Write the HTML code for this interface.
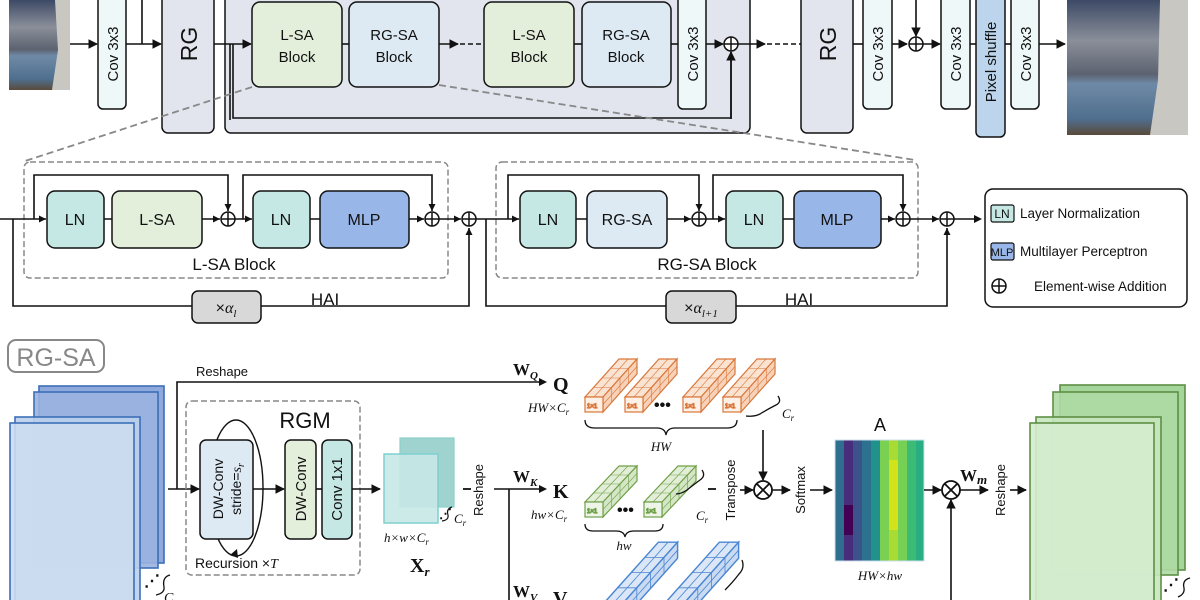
<!DOCTYPE html>
<html><head><meta charset="utf-8"><style>
html,body{margin:0;padding:0;background:#fff;}
svg{display:block;}
text{font-family:"Liberation Sans",sans-serif;fill:#111;}
.m{font-family:"Liberation Serif",serif;font-style:italic;}
.b{font-family:"Liberation Serif",serif;font-weight:bold;}
</style></head><body>
<svg width="1200" height="600" viewBox="0 0 1200 600" xmlns="http://www.w3.org/2000/svg">
<defs>
<marker id="a" viewBox="0 0 10 10" refX="9" refY="5" markerWidth="6" markerHeight="6" orient="auto"><path d="M0,0L10,5L0,10z" fill="#111"/></marker>
<g id="plus"><circle r="7" fill="#fff" stroke="#111" stroke-width="1.5"/><path d="M-7,0H7M0,-7V7" stroke="#111" stroke-width="1.5"/></g>
<g id="times"><circle r="9" fill="#fff" stroke="#111" stroke-width="1.8"/><path d="M-6.3,-6.3L6.3,6.3M-6.3,6.3L6.3,-6.3" stroke="#111" stroke-width="1.8"/></g>
<g id="barO" stroke="#d9773a" stroke-width="1.2" fill="#fbe3d2">
<path d="M0,0L34,-38H52L18,0z"/><path d="M18,0L52,-38V-23L18,15z" fill="#f7d2b8"/><rect x="0" y="0" width="18" height="15" fill="#fdf0e6"/>
<path d="M8.5,-9.5H26.5V5.5M17,-19H35V-4M25.5,-28.5H43.5V-13.5M9,0L43,-38M52,-30.5L18,7.5" fill="none" stroke-width="0.6"/>
<text x="2" y="11" font-size="6" style="fill:#d9773a">1×1</text></g>
<g id="barG" stroke="#6fa048" stroke-width="1.2" fill="#e3eed8">
<path d="M0,0L34,-36H52L18,0z"/><path d="M18,0L52,-36V-21L18,15z" fill="#d5e6c6"/><rect x="0" y="0" width="18" height="15" fill="#eef5e8"/>
<path d="M8.5,-9H26.5V6M17,-18H35V-3M25.5,-27H43.5V-12M9,0L43,-36M52,-28.5L18,7.5" fill="none" stroke-width="0.6"/>
<text x="2" y="11" font-size="6" style="fill:#6fa048">1×1</text></g>
<g id="barB" stroke="#4a86d4" stroke-width="0.9" fill="#dbe7f6">
<path d="M0,0L34,-38H46L12,0z"/><path d="M12,0L46,-38V-28L12,10z" fill="#c9daf1"/><rect x="0" y="0" width="12" height="10" fill="#e8f0fa"/>
<path d="M8.5,-9.5H20.5V0.5M17,-19H29V-9M25.5,-28.5H37.5V-18.5M6,0L40,-38M46,-33L12,5" fill="none" stroke-width="0.5"/></g>
<linearGradient id="img" x1="0" y1="0" x2="0" y2="1"><stop offset="0" stop-color="#3d4a66"/><stop offset="0.3" stop-color="#8a8f99"/><stop offset="0.55" stop-color="#5c6270"/><stop offset="0.62" stop-color="#6f8aa6"/><stop offset="0.88" stop-color="#4f6f8e"/><stop offset="1" stop-color="#5a4a3a"/></linearGradient>
</defs>

<!-- ===== TOP ROW ===== -->
<rect x="9" y="0" width="61" height="90" fill="url(#img)"/>
<path d="M55,0L70,0L70,90L52,90L58,50z" fill="#c9c7c2"/>
<line x1="70" y1="44" x2="97" y2="44" stroke="#111" stroke-width="1.6" marker-end="url(#a)"/>
<rect x="98" y="-10" width="28" height="119" rx="5" fill="#eef8f8" stroke="#111" stroke-width="1.5"/>
<text transform="translate(118,54) rotate(-90)" text-anchor="middle" font-size="15">Cov 3x3</text>
<line x1="126" y1="44" x2="161" y2="44" stroke="#111" stroke-width="1.6" marker-end="url(#a)"/>
<line x1="142" y1="44" x2="142" y2="0" stroke="#111" stroke-width="1.6"/>
<rect x="162" y="-10" width="52" height="143" rx="6" fill="#e3e5ee" stroke="#111" stroke-width="1.5"/>
<text transform="translate(197,44) rotate(-90)" text-anchor="middle" font-size="23">RG</text>
<rect x="225" y="-10" width="525" height="143" rx="6" fill="#e3e5ee" stroke="#111" stroke-width="1.5"/>
<line x1="214" y1="44" x2="251" y2="44" stroke="#111" stroke-width="1.6" marker-end="url(#a)"/>
<path d="M230,44V120M233,44V118H731V52" fill="none" stroke="#111" stroke-width="1.6"/>
<line x1="731" y1="119" x2="731" y2="52" stroke="#111" stroke-width="1.6" marker-end="url(#a)"/>
<rect x="252" y="2" width="90" height="85" rx="8" fill="#e3efdb" stroke="#111" stroke-width="1.5"/>
<text x="297" y="40" text-anchor="middle" font-size="15">L-SA</text><text x="297" y="62" text-anchor="middle" font-size="15">Block</text>
<line x1="342" y1="44" x2="349" y2="44" stroke="#111" stroke-width="1.6"/>
<rect x="349" y="2" width="90" height="85" rx="8" fill="#dde9f3" stroke="#111" stroke-width="1.5"/>
<text x="394" y="40" text-anchor="middle" font-size="15">RG-SA</text><text x="394" y="62" text-anchor="middle" font-size="15">Block</text>
<line x1="439" y1="44" x2="458" y2="44" stroke="#111" stroke-width="1.6" marker-end="url(#a)"/>
<line x1="460" y1="44" x2="484" y2="44" stroke="#111" stroke-width="1.6" stroke-dasharray="5,3"/>
<rect x="484" y="2" width="90" height="85" rx="8" fill="#e3efdb" stroke="#111" stroke-width="1.5"/>
<text x="529" y="40" text-anchor="middle" font-size="15">L-SA</text><text x="529" y="62" text-anchor="middle" font-size="15">Block</text>
<line x1="574" y1="44" x2="582" y2="44" stroke="#111" stroke-width="1.6"/>
<rect x="582" y="2" width="89" height="85" rx="8" fill="#dde9f3" stroke="#111" stroke-width="1.5"/>
<text x="626" y="40" text-anchor="middle" font-size="15">RG-SA</text><text x="626" y="62" text-anchor="middle" font-size="15">Block</text>
<line x1="671" y1="44" x2="678" y2="44" stroke="#111" stroke-width="1.6"/>
<rect x="678" y="-10" width="28" height="119" rx="5" fill="#eef8f8" stroke="#111" stroke-width="1.5"/>
<text transform="translate(698,54) rotate(-90)" text-anchor="middle" font-size="15">Cov 3x3</text>
<line x1="706" y1="44" x2="723" y2="44" stroke="#111" stroke-width="1.6" marker-end="url(#a)"/>
<use href="#plus" x="731" y="44"/>
<line x1="738" y1="44" x2="765" y2="44" stroke="#111" stroke-width="1.6" marker-end="url(#a)"/>
<line x1="767" y1="44" x2="801" y2="44" stroke="#111" stroke-width="1.6" stroke-dasharray="5,3"/>
<rect x="801" y="-10" width="52" height="143" rx="6" fill="#e3e5ee" stroke="#111" stroke-width="1.5"/>
<text transform="translate(836,44) rotate(-90)" text-anchor="middle" font-size="23">RG</text>
<line x1="853" y1="44" x2="863" y2="44" stroke="#111" stroke-width="1.6"/>
<rect x="863" y="-10" width="29" height="119" rx="5" fill="#eef8f8" stroke="#111" stroke-width="1.5"/>
<text transform="translate(883,54) rotate(-90)" text-anchor="middle" font-size="15">Cov 3x3</text>
<line x1="892" y1="44" x2="907" y2="44" stroke="#111" stroke-width="1.6" marker-end="url(#a)"/>
<line x1="916" y1="0" x2="916" y2="36" stroke="#111" stroke-width="1.6" marker-end="url(#a)"/>
<use href="#plus" x="916" y="44"/>
<line x1="923" y1="44" x2="940" y2="44" stroke="#111" stroke-width="1.6" marker-end="url(#a)"/>
<rect x="941" y="-10" width="29" height="119" rx="5" fill="#eef8f8" stroke="#111" stroke-width="1.5"/>
<text transform="translate(961,54) rotate(-90)" text-anchor="middle" font-size="15">Cov 3x3</text>
<line x1="970" y1="44" x2="976" y2="44" stroke="#111" stroke-width="1.6"/>
<rect x="976" y="-10" width="29" height="147" rx="5" fill="#bcd5ec" stroke="#111" stroke-width="1.5"/>
<text transform="translate(996,62) rotate(-90)" text-anchor="middle" font-size="15">Pixel shuffle</text>
<line x1="1005" y1="44" x2="1011" y2="44" stroke="#111" stroke-width="1.6"/>
<rect x="1011" y="-10" width="28" height="119" rx="5" fill="#eef8f8" stroke="#111" stroke-width="1.5"/>
<text transform="translate(1031,54) rotate(-90)" text-anchor="middle" font-size="15">Cov 3x3</text>
<line x1="1039" y1="44" x2="1065" y2="44" stroke="#111" stroke-width="1.6" marker-end="url(#a)"/>
<rect x="1067" y="0" width="121" height="135" fill="url(#img)"/>
<path d="M1160,0H1188V135H1150L1158,80z" fill="#c9c7c2"/>

<!-- dashed zoom lines -->
<path d="M252,87L22,162M439,85L915,160" stroke="#888" stroke-width="1.8" stroke-dasharray="7,4" fill="none"/>

<!-- ===== MIDDLE ROW ===== -->
<rect x="24" y="162" width="424" height="116" rx="6" fill="none" stroke="#888" stroke-width="1.5" stroke-dasharray="6,3"/>
<rect x="496" y="162" width="422" height="116" rx="6" fill="none" stroke="#888" stroke-width="1.5" stroke-dasharray="6,3"/>
<g stroke="#111" stroke-width="1.6" fill="none">
<path d="M0,219H46"/><path d="M13,219V306H469V228"/>
<path d="M34,219V175H228V211"/><path d="M243,219V175H432V211"/>
<path d="M104,219H112M202,219H220M235,219H252M310,219H320M409,219H424M439,219H461M476,219H519"/>
<path d="M486,219V306H947V228"/><path d="M508,219V175H699V211"/><path d="M713,219V175H903V211"/>
<path d="M576,219H587M667,219H691M706,219H725M783,219H794M881,219H895M910,219H939M954,219H978"/>
</g>
<g fill="#111">
<path d="M46,219l-7,-3.5v7z"/><path d="M220,219l-7,-3.5v7z"/><path d="M252,219l-7,-3.5v7z"/><path d="M424,219l-7,-3.5v7z"/><path d="M461,219l-7,-3.5v7z"/>
<path d="M228,211l-3.5,-7h7z"/><path d="M432,211l-3.5,-7h7z"/><path d="M469,228l-3.5,7h7z"/>
<path d="M519,219l-7,-3.5v7z"/><path d="M691,219l-7,-3.5v7z"/><path d="M725,219l-7,-3.5v7z"/><path d="M895,219l-7,-3.5v7z"/><path d="M939,219l-7,-3.5v7z"/><path d="M982,219l-8,-4v8z"/>
<path d="M699,211l-3.5,-7h7z"/><path d="M903,211l-3.5,-7h7z"/><path d="M947,228l-3.5,7h7z"/>
</g>
<g stroke="#111" stroke-width="1.5">
<rect x="47" y="191" width="57" height="57" rx="8" fill="#c5e8e4"/>
<rect x="112" y="191" width="90" height="57" rx="8" fill="#e3efdb"/>
<rect x="253" y="191" width="57" height="57" rx="8" fill="#c5e8e4"/>
<rect x="320" y="191" width="89" height="57" rx="8" fill="#98b6e8"/>
<rect x="520" y="191" width="56" height="57" rx="8" fill="#c5e8e4"/>
<rect x="587" y="191" width="80" height="57" rx="8" fill="#dde9f3"/>
<rect x="726" y="191" width="57" height="57" rx="8" fill="#c5e8e4"/>
<rect x="794" y="191" width="87" height="57" rx="8" fill="#98b6e8"/>
<rect x="192" y="291" width="69" height="32" rx="6" fill="#d8d8d8"/>
<rect x="666" y="291" width="70" height="32" rx="6" fill="#d8d8d8"/>
</g>
<use href="#plus" x="228" y="219"/><use href="#plus" x="432" y="219"/><use href="#plus" x="469" y="219"/>
<use href="#plus" x="699" y="219"/><use href="#plus" x="903" y="219"/><use href="#plus" x="947" y="219"/>
<g font-size="16" text-anchor="middle">
<text x="75" y="225">LN</text><text x="157" y="225">L-SA</text><text x="281" y="225">LN</text><text x="364" y="225">MLP</text>
<text x="548" y="225">LN</text><text x="627" y="225">RG-SA</text><text x="754" y="225">LN</text><text x="837" y="225">MLP</text>
</g>
<text x="234" y="270" text-anchor="middle" font-size="17">L-SA Block</text>
<text x="707" y="270" text-anchor="middle" font-size="17">RG-SA Block</text>
<text x="226" y="313" text-anchor="middle" font-size="16">×<tspan class="m">α</tspan><tspan class="m" font-size="11" dy="4">l</tspan></text>
<text x="701" y="313" text-anchor="middle" font-size="16">×<tspan class="m">α</tspan><tspan class="m" font-size="11" dy="4">l+1</tspan></text>
<text x="325" y="305" text-anchor="middle" font-size="17">HAI</text>
<text x="799" y="305" text-anchor="middle" font-size="17">HAI</text>
<!-- legend -->
<rect x="985" y="189" width="202" height="118" rx="8" fill="#fff" stroke="#111" stroke-width="1.5"/>
<rect x="991" y="205" width="23" height="17" rx="2" fill="#c5e8e4" stroke="#111" stroke-width="1.2"/>
<text x="1002" y="218" text-anchor="middle" font-size="12">LN</text>
<text x="1020" y="218" font-size="13.5">Layer Normalization</text>
<rect x="991" y="243" width="23" height="17" rx="2" fill="#98b6e8" stroke="#111" stroke-width="1.2"/>
<text x="1002" y="256" text-anchor="middle" font-size="11">MLP</text>
<text x="1020" y="256" font-size="13.5">Multilayer Perceptron</text>
<use href="#plus" x="999" y="286"/>
<text x="1034" y="291" font-size="13.5">Element-wise Addition</text>

<!-- ===== BOTTOM ===== -->
<rect x="8" y="340" width="96" height="32" rx="8" fill="#fff" stroke="#888" stroke-width="2"/>
<text x="56" y="366" text-anchor="middle" font-size="25" style="fill:#888">RG-SA</text>
<g stroke="#3d6fb8" stroke-width="1.6">
<rect x="39" y="386" width="125" height="177" fill="#8fa9dc"/>
<rect x="34" y="392" width="124" height="176" fill="#9ab2e0" fill-opacity="0.9"/>
<rect x="15" y="417" width="125" height="190" fill="#bcd0ec" fill-opacity="0.9"/>
<rect x="10" y="423" width="124" height="190" fill="#ccdcf0" fill-opacity="0.9"/>
</g>
<text x="144" y="586" font-size="16" font-weight="bold">⋰</text>
<path d="M170,575q-8,2 -6,12q1,6 -8,8" fill="none" stroke="#111" stroke-width="1.3"/>
<text x="164" y="602" class="m" font-size="14">C</text>
<path d="M177,489V382H540" fill="none" stroke="#111" stroke-width="1.6"/>
<path d="M547,382l-8,-4v8z" fill="#111"/>
<text x="196" y="376" font-size="13">Reshape</text>
<line x1="168" y1="489" x2="199" y2="489" stroke="#111" stroke-width="1.6" marker-end="url(#a)"/>
<rect x="186" y="401" width="174" height="174" rx="6" fill="none" stroke="#888" stroke-width="1.5" stroke-dasharray="6,3"/>
<text x="305" y="428" text-anchor="middle" font-size="22">RGM</text>
<ellipse cx="236" cy="488" rx="27" ry="68" fill="none" stroke="#111" stroke-width="1.4"/>
<path d="M230,555l7,-6l1,9z" fill="#111"/>
<rect x="200" y="440" width="53" height="99" rx="6" fill="#dde9f3" stroke="#111" stroke-width="1.5"/>
<text transform="translate(223,489) rotate(-90)" text-anchor="middle" font-size="14">DW-Conv</text>
<text transform="translate(241,489) rotate(-90)" text-anchor="middle" font-size="14">stride=<tspan class="m">s</tspan><tspan class="m" font-size="10" dy="3">r</tspan></text>
<line x1="253" y1="489" x2="284" y2="489" stroke="#111" stroke-width="1.6" marker-end="url(#a)"/>
<rect x="285" y="440" width="31" height="99" rx="6" fill="#e3efdb" stroke="#111" stroke-width="1.5"/>
<text transform="translate(306,489) rotate(-90)" text-anchor="middle" font-size="15">DW-Conv</text>
<line x1="316" y1="489" x2="322" y2="489" stroke="#111" stroke-width="1.6"/>
<rect x="322" y="440" width="30" height="99" rx="6" fill="#c5e8e4" stroke="#111" stroke-width="1.5"/>
<text transform="translate(342,489) rotate(-90)" text-anchor="middle" font-size="15">Conv 1x1</text>
<line x1="352" y1="489" x2="380" y2="489" stroke="#111" stroke-width="1.6" marker-end="url(#a)"/>
<text x="195" y="568" font-size="14">Recursion ×<tspan class="m">T</tspan></text>
<rect x="400" y="438" width="54" height="69" fill="#9fd3cf" stroke="#8cd0cc" stroke-width="1.2"/>
<rect x="384" y="454" width="54" height="69" fill="#c6e8e6" fill-opacity="0.9" stroke="#7fcfd0" stroke-width="1.5"/>
<text x="439" y="518" font-size="13" font-weight="bold">⋰</text>
<path d="M452,507q-6,2 -4,8q1,5 -6,6" fill="none" stroke="#111" stroke-width="1.2"/>
<text x="454" y="523" class="m" font-size="13">C<tspan font-size="9" dy="3">r</tspan></text>
<text x="384" y="542" class="m" font-size="13">h×w×C<tspan font-size="9" dy="3">r</tspan></text>
<text x="410" y="572" class="b" font-size="20">X<tspan class="m" font-size="13" dy="4">r</tspan></text>
<line x1="463" y1="489" x2="471" y2="489" stroke="#111" stroke-width="1.8"/>
<text transform="translate(483,490) rotate(-90)" text-anchor="middle" font-size="13">Reshape</text>
<path d="M494,489H540M509,489V600" fill="none" stroke="#111" stroke-width="1.6"/>
<path d="M547,489l-8,-4v8z" fill="#111"/>
<text x="513" y="375" class="b" font-size="17">W<tspan class="m" font-size="11" dy="4">Q</tspan></text>
<text x="553" y="391" class="b" font-size="20">Q</text>
<text x="528" y="412" class="m" font-size="13">HW×C<tspan font-size="9" dy="3">r</tspan></text>
<text x="513" y="482" class="b" font-size="17">W<tspan class="m" font-size="11" dy="4">K</tspan></text>
<text x="553" y="498" class="b" font-size="20">K</text>
<text x="531" y="519" class="m" font-size="13">hw×C<tspan font-size="9" dy="3">r</tspan></text>
<text x="513" y="597" class="b" font-size="17">W<tspan class="m" font-size="11" dy="4">V</tspan></text>
<text x="553" y="605" class="b" font-size="20">V</text>
<use href="#barO" x="585" y="397"/><use href="#barO" x="625" y="397"/><use href="#barO" x="683" y="397"/><use href="#barO" x="723" y="397"/>
<text x="654" y="410" font-size="16" font-weight="bold">•••</text>
<path d="M585,420q0,8 10,8h62q8,0 9,7q1,-7 9,-7h52q10,0 10,-8" fill="none" stroke="#111" stroke-width="1.3"/>
<text x="661" y="451" class="m" font-size="13" text-anchor="middle">HW</text>
<path d="M778,396q4,6 -2,9q-8,4 -16,9q-6,3 -14,2" fill="none" stroke="#111" stroke-width="1.3"/>
<text x="782" y="418" class="m" font-size="13">C<tspan font-size="9" dy="3">r</tspan></text>
<use href="#barG" x="585" y="502"/><use href="#barG" x="644" y="502"/>
<text x="617" y="515" font-size="16" font-weight="bold">•••</text>
<path d="M585,524q0,7 8,7h23q8,0 9,6q1,-6 9,-6h21q8,0 8,-7" fill="none" stroke="#111" stroke-width="1.3"/>
<text x="624" y="550" class="m" font-size="13" text-anchor="middle">hw</text>
<path d="M702,470q4,6 -2,10q-8,6 -13,10q-6,4 -11,4" fill="none" stroke="#111" stroke-width="1.3"/>
<text x="696" y="520" class="m" font-size="13">C<tspan font-size="9" dy="3">r</tspan></text>
<g transform="translate(604,603) scale(1.6)"><use href="#barB"/></g>
<g transform="translate(665,603) scale(1.6)"><use href="#barB"/></g>
<path d="M742,560q3,8 -3,14q-6,8 -14,16" fill="none" stroke="#111" stroke-width="1.3"/>
<line x1="708" y1="489" x2="716" y2="489" stroke="#111" stroke-width="1.8"/>
<text transform="translate(735,490) rotate(-90)" text-anchor="middle" font-size="13">Transpose</text>
<line x1="740" y1="490" x2="753" y2="490" stroke="#111" stroke-width="1.6" marker-end="url(#a)"/>
<line x1="763" y1="430" x2="763" y2="480" stroke="#111" stroke-width="1.6" marker-end="url(#a)"/>
<use href="#times" x="763" y="490"/>
<line x1="772" y1="490" x2="790" y2="490" stroke="#111" stroke-width="1.6" marker-end="url(#a)"/>
<text transform="translate(805,490) rotate(-90)" text-anchor="middle" font-size="13">Softmax</text>
<line x1="810" y1="490" x2="832" y2="490" stroke="#111" stroke-width="1.6" marker-end="url(#a)"/>
<text x="880" y="431" font-family="Liberation Serif" font-size="18" text-anchor="middle">A</text>
<g>
<rect x="835" y="440" width="9" height="121" fill="#2e6f8e"/>
<rect x="844" y="440" width="9" height="121" fill="#472d7b"/>
<rect x="844" y="505" width="9" height="30" fill="#440154"/>
<rect x="853" y="440" width="9" height="121" fill="#3b528b"/>
<rect x="862" y="440" width="9" height="121" fill="#2c728e"/>
<rect x="871" y="440" width="9" height="121" fill="#21918c"/>
<rect x="880" y="440" width="9" height="121" fill="#7ad151"/>
<rect x="889" y="440" width="9" height="121" fill="#a8db34"/>
<rect x="889" y="460" width="9" height="70" fill="#d2e21b"/>
<rect x="898" y="440" width="9" height="121" fill="#75d054"/>
<rect x="907" y="440" width="9" height="121" fill="#3bbb75"/>
<rect x="916" y="440" width="8" height="121" fill="#28ae80"/>
<rect x="835" y="440" width="89" height="121" fill="none" stroke="#cde" stroke-width="1"/>
</g>
<text x="880" y="580" class="m" font-size="13" text-anchor="middle">HW×hw</text>
<line x1="924" y1="490" x2="941" y2="490" stroke="#111" stroke-width="1.6" marker-end="url(#a)"/>
<line x1="951" y1="600" x2="951" y2="500" stroke="#111" stroke-width="1.6" marker-end="url(#a)"/>
<use href="#times" x="951" y="490"/>
<line x1="960" y1="490" x2="988" y2="490" stroke="#111" stroke-width="1.6" marker-end="url(#a)"/>
<text x="960" y="481" class="b" font-size="17">W<tspan class="m" font-size="13" dy="3">m</tspan></text>
<text transform="translate(1005,490) rotate(-90)" text-anchor="middle" font-size="13">Reshape</text>
<line x1="1010" y1="490" x2="1026" y2="490" stroke="#111" stroke-width="1.6" marker-end="url(#a)"/>
<g stroke="#5e8f45" stroke-width="1.6">
<rect x="1060" y="385" width="125" height="185" fill="#a4d59a"/>
<rect x="1053" y="392" width="125" height="183" fill="#aedaa4" fill-opacity="0.9"/>
<rect x="1036" y="417" width="125" height="190" fill="#c6e6be" fill-opacity="0.9"/>
<rect x="1030" y="423" width="124" height="190" fill="#d4ecce" fill-opacity="0.9"/>
</g>
<text x="1163" y="590" font-size="16" font-weight="bold">⋰</text>
<path d="M1190,578q-8,2 -6,10q1,6 -6,9" fill="none" stroke="#111" stroke-width="1.3"/>
</svg>
</body></html>
